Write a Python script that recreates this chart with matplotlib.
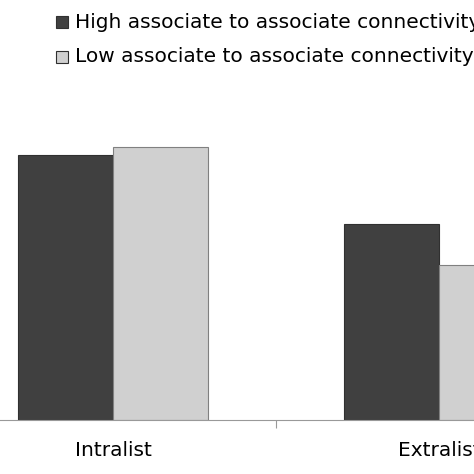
import matplotlib.pyplot as plt
import numpy as np

categories = ['Intralist', 'Extralist']
high_conn = [0.631, 0.467]
low_conn = [0.650, 0.369]
series_labels = ['High associate to associate connectivity',
                 'Low associate to associate connectivity']

W = 474.0
fig = plt.figure(figsize=(4.74, 4.74), dpi=100)
# axes run past the right edge of the figure (the reference is cropped)
ax = fig.add_axes([-50 / W, (W - 420) / W, 652 / W, 420 / W])

x = np.arange(len(categories))
w = 0.29
ax.bar(x - w / 2, high_conn, w, color='#404040', edgecolor='#303030', linewidth=0.8)
ax.bar(x + w / 2, low_conn, w, color='#d0d0d0', edgecolor='#808080', linewidth=0.8)

ax.set_xlim(-0.5, 1.5)
ax.set_ylim(0, 1)
ax.set_xticks([0.5])
ax.set_xticklabels([''])
ax.tick_params(axis='x', length=6, color='#999999')
ax.set_yticks([])
for s in ['top', 'right', 'left']:
    ax.spines[s].set_visible(False)
ax.spines['bottom'].set_color('#999999')

for xi, lab in zip(x, categories):
    fig.text((xi + 0.5) * 326 / W + (-50) / W, (W - 450) / W, lab,
             ha='center', va='center', fontsize=14.5)

# legend drawn as text near the top
colors = ['#404040', '#d0d0d0']
for i, (lab, c) in enumerate(zip(series_labels, colors)):
    yy = (W - 22 - 35 * i) / W
    fig.patches.append(plt.Rectangle((56 / W, yy - 6 / W), 12 / W, 12 / W,
                                     transform=fig.transFigure, facecolor=c,
                                     edgecolor='#303030', linewidth=0.8))
    fig.text(75 / W, yy, lab, ha='left', va='center', fontsize=14.5)

fig.savefig('out.png', dpi=100)
